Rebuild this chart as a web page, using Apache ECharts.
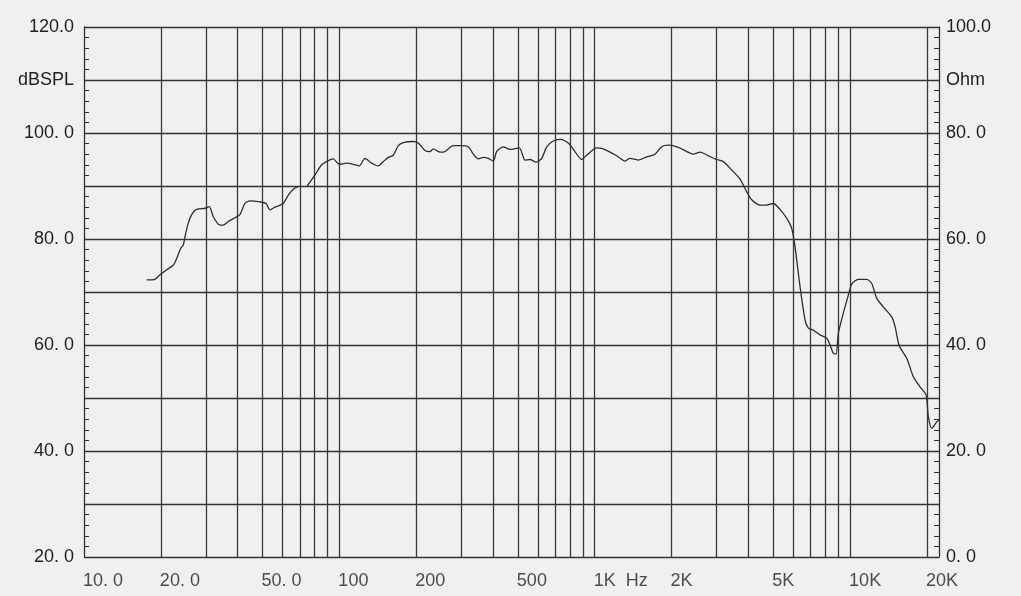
<!DOCTYPE html>
<html>
<head>
<meta charset="utf-8">
<script src="https://cdn.jsdelivr.net/npm/echarts@6/dist/echarts.min.js"></script>
<style>
html,body{margin:0;padding:0;background:#eef0f1;}
#chart{width:1021px;height:596px;}
</style>
</head>
<body>
<div id="chart"></div>
<script>
// Frequency response (Hz) and SPL (dB); null marks the break in the trace
const freqHz = [17.6,18.95,19.8,21.1,22.4,23.1,23.9,24.5,24.85,25.6,26.4,27.6,29.8,30.9,32.1,33.6,35.1,36.7,39.6,40.8,42.7,44.7,48.9,51.6,53.5,55.9,60.3,63.1,66.0,69.0,
  72.0,
  74.8,80.3,85.2,90.5,94.6,99.9,106.8,113.3,119.7,126.0,133.8,142.0,148.6,155.5,162.6,170.1,177.9,194.7,203.7,216.4,226.4,233.3,244.0,255.3,279.3,296.8,319.8,334.6,350.0,366.1,382.9,400.6,413.1,438.5,465.6,506.5,533.2,557.8,588.8,619.8,648.4,688.0,730.9,787.7,836.7,888.9,929.7,1018,1080,1219,1313,1374,1481,1597,1722,1829,1941,2125,2292,2432,2584,2784,3003,3188,3440,3707,3937,4119,4438,4715,5004,5315,5648,5908,6086,6368,6662,6863,7179,7626,8100,8346,8600,8811,8995,9408,9843,10148,10770,11618,12153,12714,13491,14555,14997,15590,16668,17687,18785,19833,20248,20878,21841,22250];
const splDb = [72.3,72.4,73.2,74.2,75.1,76.4,78.2,78.9,80.4,83.0,84.6,85.6,85.8,86.1,84.2,82.8,82.6,83.3,84.2,84.6,86.7,87.2,87.0,86.7,85.5,86.0,86.7,88.3,89.4,89.9,
  null,
  90.0,92.1,94.0,94.8,95.1,94.1,94.3,94.1,93.8,95.2,94.3,93.8,94.6,95.4,95.8,97.6,98.2,98.4,98.1,96.7,96.5,97.0,96.5,96.4,97.6,97.6,97.4,96.0,95.1,95.4,95.2,94.7,96.5,97.4,96.9,97.2,94.9,95.0,94.5,95.2,97.4,98.5,98.8,98.1,96.5,95.0,95.8,97.2,97.0,95.7,94.7,95.2,94.9,95.5,96.0,97.4,97.7,97.3,96.5,96.0,96.4,95.7,95.0,94.6,93.0,91.3,88.9,87.4,86.4,86.4,86.7,85.6,83.9,82.0,78.5,71.0,64.7,63.2,62.8,61.9,61.3,60.0,58.4,58.3,62.2,66.0,69.4,71.5,72.4,72.4,71.6,68.8,67.2,65.3,63.5,59.8,57.5,54.0,52.1,50.6,46.5,44.3,45.5,45.8];

// Vertical grid frequencies
const gridFreqs = [20,30,40,50,60,70,80,90,100,200,300,400,500,600,700,800,900,1000,2000,3000,4000,5000,6000,7000,8000,9000,10000,20000];

// X tick labels
const xTickVals = [10,20,50,100,200,500,1000,2000,5000,10000,20000];
const xTickText = ['10. 0','20. 0','50. 0','100','200','500','1K  Hz','2K','5K','10K','20K'];

// Left axis (dBSPL) tick labels
const leftTickVals = [120,110,100,80,60,40,20];
const leftTickText = ['120.0','dBSPL','100. 0','80. 0','60. 0','40. 0','20. 0'];
// Right axis (Ohm) tick labels
const rightTickVals = [100,90,80,60,40,20,0];
const rightTickText = ['100.0','Ohm','80. 0','60. 0','40. 0','20. 0','0. 0'];

const FONT = '"Liberation Sans", Arial, sans-serif';
const INK = '#333333';

// split the trace into segments at null values
const segments = [[]];
freqHz.forEach((f,i) => {
  if (splDb[i] === null) { segments.push([]); }
  else { segments[segments.length-1].push([f, splDb[i]]); }
});

function labelFor(vals, texts){
  return function(v){
    const i = vals.indexOf(Math.round(v));
    return i >= 0 ? texts[i] : '';
  };
}

const curveSeries = segments.map((seg, k) => ({
  type: 'line',
  data: seg,
  yAxisIndex: 0,
  showSymbol: false,
  smooth: 0.25,
  lineStyle: {color:'#2e2e2e', width:1.3},
  z: 5,
  markLine: k === 0 ? {
    silent: true, symbol: ['none','none'], label:{show:false},
    lineStyle: {color:'#3a3a3a', width:1.3, type:'solid'},
    data: gridFreqs.map(f => ({xAxis: f}))
  } : undefined
}));

const chart = echarts.init(document.getElementById('chart'), null, {renderer:'canvas'});
chart.setOption({
  backgroundColor: '#eef0f1',
  animation: false,
  grid: {left:84, right:82, top:27, bottom:39, containLabel:false},
  xAxis: {
    type: 'log', logBase: 10, min: 10, max: 22290,
    axisLine: {show:false}, axisTick: {show:false}, axisLabel: {show:false},
    splitLine: {show:false}
  },
  yAxis: [{
    type: 'value', min: 20, max: 120, interval: 10, position: 'left',
    axisLine: {show:true, lineStyle:{color:INK, width:1.3}},
    axisTick: {show:true, inside:true, length:5, lineStyle:{color:INK}},
    minorTick: {show:true, splitNumber:5, length:5, lineStyle:{color:INK}},
    axisLabel: {show:true, showMinLabel:true, showMaxLabel:true, margin:10, color:'#222', fontFamily:FONT, fontSize:18,
      formatter: labelFor(leftTickVals, leftTickText)},
    splitLine: {show:true, showMinLine:true, showMaxLine:true, lineStyle:{color:INK, width:1.4}}
  },{
    type: 'value', min: 0, max: 100, interval: 10, position: 'right',
    axisLine: {show:true, lineStyle:{color:INK, width:1.3}},
    axisTick: {show:true, inside:true, length:5, lineStyle:{color:INK}},
    minorTick: {show:true, splitNumber:5, length:5, lineStyle:{color:INK}},
    axisLabel: {show:true, showMinLabel:true, showMaxLabel:true, margin:7, color:'#222', fontFamily:FONT, fontSize:18,
      formatter: labelFor(rightTickVals, rightTickText)},
    splitLine: {show:false}
  }],
  series: curveSeries.concat([{
    type: 'scatter',
    yAxisIndex: 0,
    clip: false,
    symbolSize: 0,
    silent: true,
    data: xTickVals.map((f,i) => ({value:[f,20], name:xTickText[i]})),
    label: {show:true, position:'inside', offset:[-1,24], align:'left', verticalAlign:'middle',
      formatter: p => p.name, color:'#222', fontFamily:FONT, fontSize:18}
  }])
});
</script>
</body>
</html>
